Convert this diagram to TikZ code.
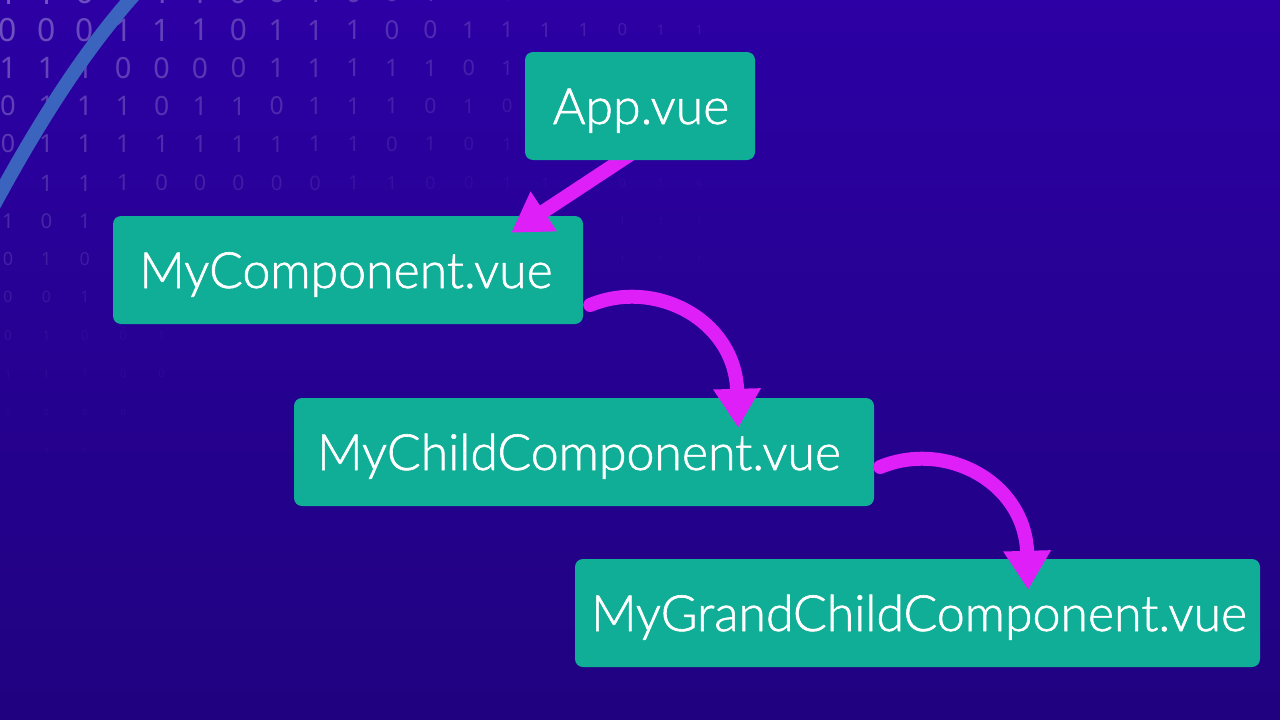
\documentclass[tikz,border=0pt]{standalone}
\usepackage{fontspec}
\setmainfont{Lato Light}[FakeBold=1.2]
\newfontfamily\digitfont{Noto Sans}
\usetikzlibrary{arrows.meta,calc}
\definecolor{boxgreen}{HTML}{10AE96}
\definecolor{flowpink}{HTML}{DF1FF8}
\definecolor{bgtop}{HTML}{2C00A4}
\definecolor{bgbottom}{HTML}{200280}
\definecolor{swoosh}{HTML}{3A64BE}
\pgfdeclarelayer{front}
\pgfsetlayers{main,front}
\tikzset{
	filebox/.style = {fill=boxgreen, text=white, rounded corners=8pt, inner sep=0pt, minimum height=108pt, text height=40pt, text depth=4pt, font=\fontsize{50}{50}\selectfont},
	flow/.style = {draw=flowpink, line width=14pt, -{Triangle[width=45pt,length=39pt]}},
}
\begin{document}
\begin{tikzpicture}[x=1pt,y=-1pt]
		\useasboundingbox (0,0) rectangle (1280,720);
		\shade [top color=bgtop, bottom color=bgbottom] (0,0) rectangle (1280,720);
		\foreach \rowy/\first/\bits [count=\row] in {
			-8/1/{1,1,0,1,1,1,0,0,1,0,0,1,1,0,0,1,1,0,1},
			30/1/{0,0,0,1,1,1,0,1,1,1,0,0,1,1,1,1,0,1,1},
			68/1/{1,1,1,0,0,0,0,1,1,1,1,1,0,1},
			106/1/{0,1,1,1,0,1,1,0,1,1,1,0,1,0},
			144/1/{0,1,1,1,1,1,1,1,1,1,0,1,0,1},
			183/1/{1,1,1,1,0,0,0,0,0,1,1,0,0,1,1,1,0,1,0},
			221/1/{1,0,1},
			221/17/{1,1,1},
			259/1/{0,1,0},
			259/17/{1,1,1},
			297/1/{0,0,1},
			336/1/{0,1,0,0,1},
			374/1/{1,1,1,0,0},
			412/1/{0,0,0,0},
			450/1/{1,0,0},
			488/1/{1,1},
			526/1/{1,1},
			564/1/{1},
			602/1/{1},
			640/1/{1}} {
			\foreach \bit [count=\col from \first] in \bits {
				\pgfmathsetmacro{\xpos}{8+38.4*(\col-1)}
				\pgfmathsetmacro{\sz}{max(3,32*(1-(\xpos/900)^2)*(1-(max(\rowy,0)-30)/530))}
				\pgfmathsetmacro{\op}{max(0.035,0.34*(1-\xpos/1000-max(\rowy,0)/420))}
				\node [text=white, text opacity=\op, inner sep=0pt] (d\row-\col) at (\xpos,\rowy) {\digitfont\fontsize{\sz}{\sz}\selectfont\bit};
			}
		}
		\draw [swoosh, line width=14pt] (134,-5) .. controls (85,50) and (40,120) .. (-6,205);
		\begin{pgfonlayer}{front}
			\node [filebox, minimum width=230pt] (app) at (640,106) {\hspace*{2pt}App.vue};
		\end{pgfonlayer}
		\node [filebox, minimum width=470pt] (mycomp) at (348,270) {\hspace*{-4pt}MyComponent.vue};
		\node [filebox, minimum width=580pt] (child) at (584,452) {\hspace*{-10pt}MyChildComponent.vue};
		\node [filebox, minimum width=685pt] (grand) at (917.5,613) {\hspace*{3pt}MyGrandChildComponent.vue};
		\draw [flow] ($(app.south)+(-8,-7)$) -- ($(mycomp.north east)+(-72,17)$);
		\draw [flow, line cap=round] ($(mycomp.east)+(7,35)$) .. controls +(65,-27) and +(-3,-108) .. ($(child.north east)+(-136,30)$);
		\draw [flow, line cap=round] ($(child.east)+(6,15)$) .. controls +(65,-27) and +(-3,-108) .. ($(grand.north east)+(-232,31)$);
\end{tikzpicture}
\end{document}
